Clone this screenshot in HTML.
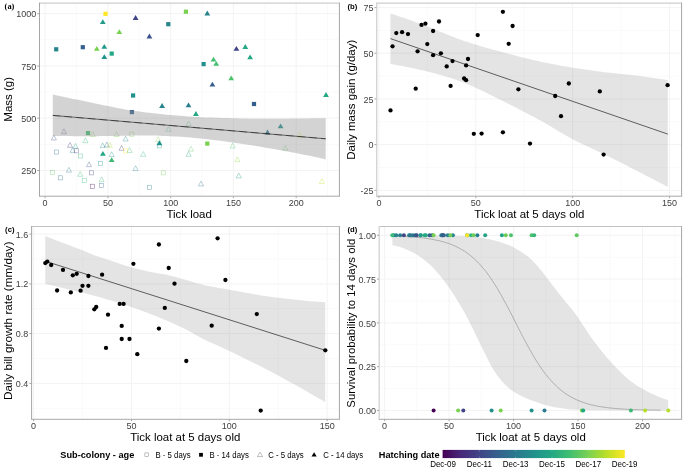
<!DOCTYPE html>
<html lang="en"><head><meta charset="utf-8"><title>Tick load figure</title>
<style>
html,body{margin:0;padding:0;background:#fff;}
svg{display:block;}
text{font-family:"Liberation Sans",Arial,Helvetica,sans-serif;}
.tk{font-size:9px;fill:#404040;}
.ax{font-size:11.45px;fill:#000;}
.ay{font-size:11.5px;fill:#000;}
.lb{font-size:7.7px;font-weight:bold;fill:#000;}
.lbs{font-family:"Liberation Serif","Times New Roman",serif;font-size:8.4px;font-weight:bold;fill:#000;}
.lt{font-size:9.2px;font-weight:bold;fill:#000;}
.lg{font-size:7.8px;fill:#000;}
.lc{font-size:8px;fill:#000;}
</style></head><body>
<svg width="685" height="472" viewBox="0 0 685 472">
<rect width="685" height="472" fill="#fff"/>
<g id="panel-a">
<line x1="76.5" y1="3.1" x2="76.5" y2="196.2" stroke="#fafafa" stroke-width="1"/>
<line x1="139.3" y1="3.1" x2="139.3" y2="196.2" stroke="#fafafa" stroke-width="1"/>
<line x1="202" y1="3.1" x2="202" y2="196.2" stroke="#fafafa" stroke-width="1"/>
<line x1="264.8" y1="3.1" x2="264.8" y2="196.2" stroke="#fafafa" stroke-width="1"/>
<line x1="327.6" y1="3.1" x2="327.6" y2="196.2" stroke="#fafafa" stroke-width="1"/>
<line x1="39.5" y1="144.4" x2="339.4" y2="144.4" stroke="#fafafa" stroke-width="1"/>
<line x1="39.5" y1="92.1" x2="339.4" y2="92.1" stroke="#fafafa" stroke-width="1"/>
<line x1="39.5" y1="39.8" x2="339.4" y2="39.8" stroke="#fafafa" stroke-width="1"/>
<line x1="45.1" y1="3.1" x2="45.1" y2="196.2" stroke="#f3f3f3" stroke-width="1"/>
<line x1="107.9" y1="3.1" x2="107.9" y2="196.2" stroke="#f3f3f3" stroke-width="1"/>
<line x1="170.7" y1="3.1" x2="170.7" y2="196.2" stroke="#f3f3f3" stroke-width="1"/>
<line x1="233.4" y1="3.1" x2="233.4" y2="196.2" stroke="#f3f3f3" stroke-width="1"/>
<line x1="296.2" y1="3.1" x2="296.2" y2="196.2" stroke="#f3f3f3" stroke-width="1"/>
<line x1="39.5" y1="170.5" x2="339.4" y2="170.5" stroke="#f3f3f3" stroke-width="1"/>
<line x1="39.5" y1="118.2" x2="339.4" y2="118.2" stroke="#f3f3f3" stroke-width="1"/>
<line x1="39.5" y1="66" x2="339.4" y2="66" stroke="#f3f3f3" stroke-width="1"/>
<line x1="39.5" y1="13.7" x2="339.4" y2="13.7" stroke="#f3f3f3" stroke-width="1"/>
<path d="M63.9 128.9L66.5 133.7L61.4 133.7Z" fill="none" stroke="#443680" stroke-width="0.55" stroke-opacity="0.62"/>
<path d="M92.8 131.6L95.3 136.4L90.2 136.4Z" fill="none" stroke="#7ad151" stroke-width="0.55" stroke-opacity="0.62"/>
<path d="M116.5 131.7L119 136.5L114 136.5Z" fill="none" stroke="#7ad151" stroke-width="0.55" stroke-opacity="0.62"/>
<rect x="129.8" y="132.1" width="4.1" height="4.1" fill="none" stroke="#7ad151" stroke-width="0.55" stroke-opacity="0.62"/>
<path d="M53.9 135.2L56.4 140L51.4 140Z" fill="none" stroke="#3b528a" stroke-width="0.55" stroke-opacity="0.62"/>
<path d="M85.4 137.9L88 142.7L82.9 142.7Z" fill="none" stroke="#32b47a" stroke-width="0.55" stroke-opacity="0.62"/>
<path d="M70 142.5L72.5 147.3L67.5 147.3Z" fill="none" stroke="#472e7b" stroke-width="0.55" stroke-opacity="0.62"/>
<path d="M75.5 143.5L78 148.3L73 148.3Z" fill="none" stroke="#22a884" stroke-width="0.55" stroke-opacity="0.62"/>
<path d="M72.5 147.6L75 152.4L70 152.4Z" fill="none" stroke="#2a788e" stroke-width="0.55" stroke-opacity="0.62"/>
<rect x="74.5" y="148.8" width="4.1" height="4.1" fill="none" stroke="#414487" stroke-width="0.55" stroke-opacity="0.62"/>
<rect x="54.4" y="150" width="4.1" height="4.1" fill="none" stroke="#287d8e" stroke-width="0.55" stroke-opacity="0.62"/>
<rect x="78.4" y="154" width="4.1" height="4.1" fill="none" stroke="#32b47a" stroke-width="0.55" stroke-opacity="0.62"/>
<path d="M102.7 142.9L105.2 147.7L100.2 147.7Z" fill="none" stroke="#21918c" stroke-width="0.55" stroke-opacity="0.62"/>
<path d="M106.8 142L109.3 146.8L104.2 146.8Z" fill="none" stroke="#306c8e" stroke-width="0.55" stroke-opacity="0.62"/>
<path d="M109.8 142.5L112.3 147.3L107.2 147.3Z" fill="none" stroke="#aedc2f" stroke-width="0.55" stroke-opacity="0.62"/>
<path d="M111.7 151.7L114.2 156.5L109.2 156.5Z" fill="none" stroke="#21918c" stroke-width="0.55" stroke-opacity="0.62"/>
<rect x="98.4" y="161.3" width="4.1" height="4.1" fill="none" stroke="#21918c" stroke-width="0.55" stroke-opacity="0.62"/>
<path d="M89 161.9L91.5 166.7L86.5 166.7Z" fill="none" stroke="#3b528a" stroke-width="0.55" stroke-opacity="0.62"/>
<path d="M68.9 167.3L71.5 172.1L66.4 172.1Z" fill="none" stroke="#2a788e" stroke-width="0.55" stroke-opacity="0.62"/>
<rect x="50.5" y="170.3" width="4.1" height="4.1" fill="none" stroke="#5ec861" stroke-width="0.55" stroke-opacity="0.62"/>
<rect x="89.5" y="170.8" width="4.1" height="4.1" fill="none" stroke="#414487" stroke-width="0.55" stroke-opacity="0.62"/>
<path d="M80.2 171.5L82.8 176.3L77.7 176.3Z" fill="none" stroke="#3cba75" stroke-width="0.55" stroke-opacity="0.62"/>
<rect x="58.4" y="175.8" width="4.1" height="4.1" fill="none" stroke="#2c738e" stroke-width="0.55" stroke-opacity="0.62"/>
<rect x="82.2" y="178.2" width="4.1" height="4.1" fill="none" stroke="#3cba75" stroke-width="0.55" stroke-opacity="0.62"/>
<path d="M101.6 176.9L104.1 181.7L99 181.7Z" fill="none" stroke="#3cba75" stroke-width="0.55" stroke-opacity="0.62"/>
<rect x="90.5" y="184.2" width="4.1" height="4.1" fill="none" stroke="#45095b" stroke-width="0.55" stroke-opacity="0.62"/>
<rect x="99.5" y="183.3" width="4.1" height="4.1" fill="none" stroke="#35608d" stroke-width="0.55" stroke-opacity="0.62"/>
<path d="M135.6 165.8L138.2 170.6L133 170.6Z" fill="none" stroke="#287d8e" stroke-width="0.55" stroke-opacity="0.62"/>
<path d="M125.6 136.2L128.2 141L123 141Z" fill="none" stroke="#21918c" stroke-width="0.55" stroke-opacity="0.62"/>
<path d="M168.4 126.5L171 131.3L165.8 131.3Z" fill="none" stroke="#43bf71" stroke-width="0.55" stroke-opacity="0.62"/>
<path d="M158.2 136.9L160.8 141.7L155.6 141.7Z" fill="none" stroke="#87d449" stroke-width="0.55" stroke-opacity="0.62"/>
<rect x="157.6" y="143.8" width="4.1" height="4.1" fill="none" stroke="#229c88" stroke-width="0.55" stroke-opacity="0.62"/>
<path d="M121.6 145.5L124.1 150.3L119 150.3Z" fill="none" stroke="#443680" stroke-width="0.55" stroke-opacity="0.62"/>
<rect x="123.4" y="148.9" width="4.1" height="4.1" fill="none" stroke="#fde725" stroke-width="0.55" stroke-opacity="0.62"/>
<path d="M129.6 147.6L132.2 152.4L127 152.4Z" fill="none" stroke="#3cba75" stroke-width="0.55" stroke-opacity="0.62"/>
<path d="M143.2 151.5L145.8 156.3L140.6 156.3Z" fill="none" stroke="#32b47a" stroke-width="0.55" stroke-opacity="0.62"/>
<path d="M191 146.3L193.6 151.1L188.4 151.1Z" fill="none" stroke="#5ec861" stroke-width="0.55" stroke-opacity="0.62"/>
<path d="M188.6 151.5L191.2 156.3L186 156.3Z" fill="none" stroke="#29ad80" stroke-width="0.55" stroke-opacity="0.62"/>
<rect x="161.2" y="170.8" width="4.1" height="4.1" fill="none" stroke="#6fcd57" stroke-width="0.55" stroke-opacity="0.62"/>
<rect x="147.4" y="185.2" width="4.1" height="4.1" fill="none" stroke="#26848d" stroke-width="0.55" stroke-opacity="0.62"/>
<path d="M201 181.1L203.6 185.9L198.4 185.9Z" fill="none" stroke="#2a788e" stroke-width="0.55" stroke-opacity="0.62"/>
<path d="M188.5 121.1L191.1 125.9L185.9 125.9Z" fill="none" stroke="#4ec36b" stroke-width="0.55" stroke-opacity="0.62"/>
<path d="M232.6 143.2L235.2 148L230 148Z" fill="none" stroke="#4ec36b" stroke-width="0.55" stroke-opacity="0.62"/>
<path d="M285.4 145.3L287.9 150.1L282.8 150.1Z" fill="none" stroke="#5ec861" stroke-width="0.55" stroke-opacity="0.62"/>
<path d="M237.4 156.9L240 161.7L234.8 161.7Z" fill="none" stroke="#8dd544" stroke-width="0.55" stroke-opacity="0.62"/>
<path d="M238.8 173.1L241.4 177.9L236.2 177.9Z" fill="none" stroke="#229c88" stroke-width="0.55" stroke-opacity="0.62"/>
<path d="M321.9 178.7L324.4 183.5L319.3 183.5Z" fill="none" stroke="#c8e127" stroke-width="0.55" stroke-opacity="0.62"/>
<path d="M299.7 132.3L302.2 137.1L297.1 137.1Z" fill="none" stroke="#dce326" stroke-width="0.55" stroke-opacity="0.62"/>
<rect x="103.4" y="11.7" width="4.2" height="4.2" fill="#fde725"/>
<path d="M102.8 19.2L105.7 24.1L99.9 24.1Z" fill="#229c88"/>
<path d="M135.6 15L138.5 19.9L132.7 19.9Z" fill="#414487"/>
<path d="M119.3 29.2L122.2 34L116.4 34Z" fill="#7ad151"/>
<rect x="54.1" y="47.2" width="4.2" height="4.2" fill="#26848d"/>
<rect x="80.7" y="45.1" width="4.2" height="4.2" fill="#35608d"/>
<path d="M96.8 45.9L99.7 50.8L93.9 50.8Z" fill="#7ad151"/>
<path d="M104.3 43.9L107.2 48.8L101.4 48.8Z" fill="#229c88"/>
<rect x="109.6" y="51.5" width="4.2" height="4.2" fill="#22a884"/>
<path d="M104.3 54.3L107.2 59.1L101.4 59.1Z" fill="#21918c"/>
<path d="M149.4 33.6L152.3 38.4L146.5 38.4Z" fill="#3b528a"/>
<rect x="166.2" y="22.1" width="4.2" height="4.2" fill="#26848d"/>
<rect x="183.8" y="9.6" width="4.2" height="4.2" fill="#7ad151"/>
<path d="M207.3 10.6L210.2 15.4L204.4 15.4Z" fill="#26848d"/>
<path d="M213.5 56.7L216.4 61.5L210.6 61.5Z" fill="#43bf71"/>
<path d="M216.2 61L219.1 65.8L213.3 65.8Z" fill="#43bf71"/>
<rect x="201.5" y="62" width="4.2" height="4.2" fill="#21918c"/>
<path d="M245.3 44.1L248.2 48.9L242.4 48.9Z" fill="#22a884"/>
<path d="M250.1 54.4L253 59.2L247.2 59.2Z" fill="#22a884"/>
<path d="M236.4 46L239.3 50.8L233.5 50.8Z" fill="#414487"/>
<path d="M231.2 75.4L234.1 80.2L228.3 80.2Z" fill="#4ec36b"/>
<path d="M212.4 81.8L215.3 86.6L209.5 86.6Z" fill="#35608d"/>
<rect x="131" y="93.4" width="4.2" height="4.2" fill="#21918c"/>
<rect x="129.8" y="110" width="4.2" height="4.2" fill="#35608d"/>
<rect x="85.9" y="131" width="4.2" height="4.2" fill="#43bf71"/>
<path d="M162.1 103.1L165 108L159.2 108Z" fill="#26848d"/>
<path d="M188.5 102.5L191.4 107.3L185.6 107.3Z" fill="#287d8e"/>
<path d="M195.9 111.1L198.8 116L193 116Z" fill="#22a884"/>
<rect x="251.9" y="101.9" width="4.2" height="4.2" fill="#35608d"/>
<path d="M326 92.1L328.9 97L323.1 97Z" fill="#22a884"/>
<path d="M280.6 123.4L283.5 128.2L277.7 128.2Z" fill="#21918c"/>
<path d="M267.5 129.6L270.4 134.5L264.6 134.5Z" fill="#2a788e"/>
<rect x="205.2" y="141.5" width="4.2" height="4.2" fill="#7ad151"/>
<path d="M102.9 150.9L105.8 155.8L100 155.8Z" fill="#22a884"/>
<path d="M111.7 157.2L114.6 162.1L108.8 162.1Z" fill="#3cba75"/>
<path d="M159.4 140.3L162.3 145.2L156.5 145.2Z" fill="#21918c"/>
<path d="M52.8 94.5 L56.3 95.2 L59.7 96 L63.2 96.7 L66.6 97.4 L70.1 98.2 L73.5 98.9 L77 99.6 L80.4 100.3 L83.9 101 L87.3 101.7 L90.8 102.5 L94.3 103.2 L97.7 103.9 L101.2 104.7 L104.6 105.4 L108.1 106.1 L111.5 106.8 L115 107.5 L118.4 108.2 L121.9 108.8 L125.3 109.4 L128.8 110 L132.3 110.5 L135.7 111 L139.2 111.5 L142.6 112 L146.1 112.4 L149.5 112.8 L153 113.2 L156.4 113.6 L159.9 114 L163.3 114.3 L166.8 114.7 L170.3 115 L173.7 115.3 L177.2 115.6 L180.6 115.8 L184.1 116.1 L187.5 116.4 L191 116.6 L194.4 116.9 L197.9 117.1 L201.3 117.2 L204.8 117.4 L208.2 117.5 L211.7 117.6 L215.2 117.7 L218.6 117.8 L222.1 117.9 L225.5 118 L229 118.1 L232.4 118.2 L235.9 118.3 L239.3 118.4 L242.8 118.5 L246.2 118.6 L249.7 118.7 L253.2 118.7 L256.6 118.7 L260.1 118.7 L263.5 118.7 L267 118.7 L270.4 118.7 L273.9 118.7 L277.3 118.7 L280.8 118.7 L284.2 118.7 L287.7 118.7 L291.2 118.6 L294.6 118.6 L298.1 118.5 L301.5 118.5 L305 118.4 L308.4 118.4 L311.9 118.3 L315.3 118.3 L318.8 118.2 L322.2 118.2 L325.7 118.1 L325.7 159.4 L322.2 158.6 L318.8 157.8 L315.3 157 L311.9 156.3 L308.4 155.6 L305 154.9 L301.5 154.2 L298.1 153.5 L294.6 152.8 L291.2 152.2 L287.7 151.5 L284.2 150.9 L280.8 150.3 L277.3 149.7 L273.9 149.1 L270.4 148.5 L267 147.9 L263.5 147.3 L260.1 146.7 L256.6 146.1 L253.2 145.6 L249.7 145.1 L246.2 144.5 L242.8 144 L239.3 143.5 L235.9 143 L232.4 142.5 L229 142 L225.5 141.6 L222.1 141.1 L218.6 140.6 L215.2 140.2 L211.7 139.7 L208.2 139.3 L204.8 138.9 L201.3 138.6 L197.9 138.2 L194.4 137.9 L191 137.6 L187.5 137.3 L184.1 137 L180.6 136.8 L177.2 136.5 L173.7 136.4 L170.3 136.2 L166.8 136 L163.3 135.9 L159.9 135.7 L156.4 135.6 L153 135.5 L149.5 135.5 L146.1 135.5 L142.6 135.5 L139.2 135.6 L135.7 135.6 L132.3 135.6 L128.8 135.7 L125.3 135.8 L121.9 135.8 L118.4 135.9 L115 135.9 L111.5 136 L108.1 136 L104.6 136.1 L101.2 136.1 L97.7 136.2 L94.3 136.2 L90.8 136.2 L87.3 136.2 L83.9 136.2 L80.4 136.2 L77 136.2 L73.5 136.2 L70.1 136.1 L66.6 136.1 L63.2 136.1 L59.7 136 L56.3 136 L52.8 135.9Z" fill="rgba(150,150,150,0.42)"/>
<line x1="52.8" y1="115.4" x2="325.7" y2="138.8" stroke="#333" stroke-width="0.7"/>
<line x1="52.8" y1="115.4" x2="325.7" y2="138.8" stroke="#000" stroke-width="0.9" stroke-opacity="0.45" stroke-dasharray="7.6 4.1"/>
<line x1="39.5" y1="3.1" x2="339.4" y2="3.1" stroke="#c2c2c2" stroke-width="1"/>
<line x1="39" y1="196.2" x2="339.9" y2="196.2" stroke="#a8a8a8" stroke-width="1"/>
<line x1="39.5" y1="2.6" x2="39.5" y2="196.2" stroke="#a6a6a6" stroke-width="1"/>
<line x1="339.4" y1="2.6" x2="339.4" y2="196.2" stroke="#a6a6a6" stroke-width="1"/>
<line x1="45.1" y1="196.6" x2="45.1" y2="198.1" stroke="#8c8c8c" stroke-width="0.8"/>
<text transform="translate(45.1,206.15) scale(1.0,1.08)" text-anchor="middle" class="tk">0</text>
<line x1="107.9" y1="196.6" x2="107.9" y2="198.1" stroke="#8c8c8c" stroke-width="0.8"/>
<text transform="translate(107.88,206.15) scale(1.0,1.08)" text-anchor="middle" class="tk">50</text>
<line x1="170.7" y1="196.6" x2="170.7" y2="198.1" stroke="#8c8c8c" stroke-width="0.8"/>
<text transform="translate(170.65,206.15) scale(1.0,1.08)" text-anchor="middle" class="tk">100</text>
<line x1="233.4" y1="196.6" x2="233.4" y2="198.1" stroke="#8c8c8c" stroke-width="0.8"/>
<text transform="translate(233.43,206.15) scale(1.0,1.08)" text-anchor="middle" class="tk">150</text>
<line x1="296.2" y1="196.6" x2="296.2" y2="198.1" stroke="#8c8c8c" stroke-width="0.8"/>
<text transform="translate(296.2,206.15) scale(1.0,1.08)" text-anchor="middle" class="tk">200</text>
<line x1="37.3" y1="170.5" x2="39.1" y2="170.5" stroke="#8c8c8c" stroke-width="0.8"/>
<text transform="translate(36.2,174.1) scale(1.0,1.08)" text-anchor="end" class="tk">250</text>
<line x1="37.3" y1="118.2" x2="39.1" y2="118.2" stroke="#8c8c8c" stroke-width="0.8"/>
<text transform="translate(36.2,121.83) scale(1.0,1.08)" text-anchor="end" class="tk">500</text>
<line x1="37.3" y1="66" x2="39.1" y2="66" stroke="#8c8c8c" stroke-width="0.8"/>
<text transform="translate(36.2,69.57) scale(1.0,1.08)" text-anchor="end" class="tk">750</text>
<line x1="37.3" y1="13.7" x2="39.1" y2="13.7" stroke="#8c8c8c" stroke-width="0.8"/>
<text transform="translate(36.2,17.3) scale(1.0,1.08)" text-anchor="end" class="tk">1000</text>
<text transform="translate(189.1,217.5) scale(1.0,1.02)" text-anchor="middle" class="ax">Tick load</text>
<text transform="translate(11.7,99.3) rotate(-90) scale(1.0,1.02)" text-anchor="middle" class="ay">Mass (g)</text>
<text x="4.6" y="8.9" class="lbs">(a)</text>
</g>
<g id="panel-b">
<line x1="427.3" y1="3.1" x2="427.3" y2="196.2" stroke="#fafafa" stroke-width="1"/>
<line x1="524.2" y1="3.1" x2="524.2" y2="196.2" stroke="#fafafa" stroke-width="1"/>
<line x1="621.1" y1="3.1" x2="621.1" y2="196.2" stroke="#fafafa" stroke-width="1"/>
<line x1="376.7" y1="167.4" x2="681.6" y2="167.4" stroke="#fafafa" stroke-width="1"/>
<line x1="376.7" y1="121.8" x2="681.6" y2="121.8" stroke="#fafafa" stroke-width="1"/>
<line x1="376.7" y1="76.1" x2="681.6" y2="76.1" stroke="#fafafa" stroke-width="1"/>
<line x1="376.7" y1="30.4" x2="681.6" y2="30.4" stroke="#fafafa" stroke-width="1"/>
<line x1="378.9" y1="3.1" x2="378.9" y2="196.2" stroke="#f3f3f3" stroke-width="1"/>
<line x1="475.8" y1="3.1" x2="475.8" y2="196.2" stroke="#f3f3f3" stroke-width="1"/>
<line x1="572.6" y1="3.1" x2="572.6" y2="196.2" stroke="#f3f3f3" stroke-width="1"/>
<line x1="669.5" y1="3.1" x2="669.5" y2="196.2" stroke="#f3f3f3" stroke-width="1"/>
<line x1="376.7" y1="190.3" x2="681.6" y2="190.3" stroke="#f3f3f3" stroke-width="1"/>
<line x1="376.7" y1="144.6" x2="681.6" y2="144.6" stroke="#f3f3f3" stroke-width="1"/>
<line x1="376.7" y1="98.9" x2="681.6" y2="98.9" stroke="#f3f3f3" stroke-width="1"/>
<line x1="376.7" y1="53.2" x2="681.6" y2="53.2" stroke="#f3f3f3" stroke-width="1"/>
<line x1="376.7" y1="7.6" x2="681.6" y2="7.6" stroke="#f3f3f3" stroke-width="1"/>
<path d="M390.4 13.4 L393.9 14.6 L397.4 15.7 L400.9 16.9 L404.4 18.1 L408 19.4 L411.5 20.6 L415 21.9 L418.5 23.2 L422 24.5 L425.5 25.8 L429 27.1 L432.5 28.5 L436 29.9 L439.6 31.4 L443.1 32.8 L446.6 34.3 L450.1 35.8 L453.6 37.1 L457.1 38.5 L460.6 39.7 L464.1 40.9 L467.7 42 L471.2 43.2 L474.7 44.3 L478.2 45.3 L481.7 46.4 L485.2 47.4 L488.7 48.4 L492.2 49.4 L495.7 50.3 L499.3 51.3 L502.8 52.2 L506.3 53.2 L509.8 54.1 L513.3 55.1 L516.8 56 L520.3 56.9 L523.8 57.8 L527.3 58.6 L530.9 59.5 L534.4 60.3 L537.9 61.1 L541.4 61.9 L544.9 62.6 L548.4 63.3 L551.9 64 L555.4 64.6 L558.9 65.3 L562.5 65.9 L566 66.5 L569.5 67.1 L573 67.7 L576.5 68.2 L580 68.8 L583.5 69.3 L587 69.8 L590.5 70.3 L594.1 70.8 L597.6 71.3 L601.1 71.7 L604.6 72.2 L608.1 72.6 L611.6 72.9 L615.1 73.3 L618.6 73.7 L622.2 74 L625.7 74.4 L629.2 74.8 L632.7 75.2 L636.2 75.6 L639.7 76 L643.2 76.5 L646.7 77 L650.2 77.5 L653.8 78 L657.3 78.5 L660.8 79.1 L664.3 79.6 L667.8 80.2 L667.8 186.9 L664.3 185 L660.8 183.2 L657.3 181.4 L653.8 179.5 L650.2 177.7 L646.7 175.9 L643.2 174.1 L639.7 172.3 L636.2 170.5 L632.7 168.7 L629.2 166.9 L625.7 165.1 L622.2 163.3 L618.6 161.6 L615.1 159.8 L611.6 158.1 L608.1 156.3 L604.6 154.6 L601.1 152.9 L597.6 151.2 L594.1 149.5 L590.5 147.8 L587 146.2 L583.5 144.5 L580 142.9 L576.5 141.2 L573 139.4 L569.5 137.6 L566 135.6 L562.5 133.6 L558.9 131.5 L555.4 129.3 L551.9 127.2 L548.4 125.1 L544.9 123.1 L541.4 121.1 L537.9 119.2 L534.4 117.3 L530.9 115.4 L527.3 113.5 L523.8 111.7 L520.3 109.9 L516.8 108.1 L513.3 106.3 L509.8 104.5 L506.3 102.8 L502.8 101 L499.3 99.3 L495.7 97.5 L492.2 95.8 L488.7 94 L485.2 92.3 L481.7 90.5 L478.2 88.9 L474.7 87.2 L471.2 85.7 L467.7 84.2 L464.1 82.8 L460.6 81.4 L457.1 80.2 L453.6 79 L450.1 77.8 L446.6 76.7 L443.1 75.7 L439.6 74.7 L436 73.7 L432.5 72.8 L429 71.9 L425.5 71 L422 70.2 L418.5 69.4 L415 68.6 L411.5 67.9 L408 67.2 L404.4 66.5 L400.9 65.8 L397.4 65.2 L393.9 64.6 L390.4 64.1Z" fill="rgba(120,120,120,0.2)"/>
<line x1="390.4" y1="38.6" x2="667.8" y2="134.1" stroke="#222" stroke-width="0.7"/>
<circle cx="392.5" cy="46.3" r="2.15" fill="#000"/>
<circle cx="396.3" cy="33.1" r="2.15" fill="#000"/>
<circle cx="402.1" cy="32.2" r="2.15" fill="#000"/>
<circle cx="408" cy="34.1" r="2.15" fill="#000"/>
<circle cx="421.5" cy="24.9" r="2.15" fill="#000"/>
<circle cx="425.4" cy="23.7" r="2.15" fill="#000"/>
<circle cx="439" cy="21.5" r="2.15" fill="#000"/>
<circle cx="433.1" cy="31" r="2.15" fill="#000"/>
<circle cx="427.3" cy="44.1" r="2.15" fill="#000"/>
<circle cx="417.6" cy="51.3" r="2.15" fill="#000"/>
<circle cx="433.1" cy="55.2" r="2.15" fill="#000"/>
<circle cx="440.9" cy="53.3" r="2.15" fill="#000"/>
<circle cx="452.5" cy="61.1" r="2.15" fill="#000"/>
<circle cx="468" cy="59" r="2.15" fill="#000"/>
<circle cx="446.7" cy="66.4" r="2.15" fill="#000"/>
<circle cx="466.1" cy="65.4" r="2.15" fill="#000"/>
<circle cx="390.5" cy="110.4" r="2.15" fill="#000"/>
<circle cx="415.7" cy="88.7" r="2.15" fill="#000"/>
<circle cx="450.6" cy="85.9" r="2.15" fill="#000"/>
<circle cx="464.1" cy="78.5" r="2.15" fill="#000"/>
<circle cx="466.1" cy="80.2" r="2.15" fill="#000"/>
<circle cx="502.9" cy="11.8" r="2.15" fill="#000"/>
<circle cx="512.6" cy="26" r="2.15" fill="#000"/>
<circle cx="477.7" cy="35.1" r="2.15" fill="#000"/>
<circle cx="508.7" cy="43.8" r="2.15" fill="#000"/>
<circle cx="518.4" cy="89.3" r="2.15" fill="#000"/>
<circle cx="568.8" cy="83.5" r="2.15" fill="#000"/>
<circle cx="555.2" cy="96" r="2.15" fill="#000"/>
<circle cx="599.8" cy="91.4" r="2.15" fill="#000"/>
<circle cx="561" cy="116.2" r="2.15" fill="#000"/>
<circle cx="603.6" cy="154.6" r="2.15" fill="#000"/>
<circle cx="667.6" cy="85.2" r="2.15" fill="#000"/>
<circle cx="473.8" cy="133.8" r="2.15" fill="#000"/>
<circle cx="481.6" cy="133.6" r="2.15" fill="#000"/>
<circle cx="502.9" cy="132.3" r="2.15" fill="#000"/>
<circle cx="530" cy="143.6" r="2.15" fill="#000"/>
<line x1="376.7" y1="3.1" x2="681.6" y2="3.1" stroke="#c2c2c2" stroke-width="1"/>
<line x1="376.2" y1="196.2" x2="682.1" y2="196.2" stroke="#a8a8a8" stroke-width="1"/>
<line x1="376.7" y1="2.6" x2="376.7" y2="196.2" stroke="#d2d2d2" stroke-width="1.3"/>
<line x1="681.6" y1="2.6" x2="681.6" y2="196.2" stroke="#a6a6a6" stroke-width="1"/>
<line x1="378.9" y1="196.6" x2="378.9" y2="198.1" stroke="#8c8c8c" stroke-width="0.8"/>
<text transform="translate(378.9,206.15) scale(1.0,1.08)" text-anchor="middle" class="tk">0</text>
<line x1="475.8" y1="196.6" x2="475.8" y2="198.1" stroke="#8c8c8c" stroke-width="0.8"/>
<text transform="translate(475.77,206.15) scale(1.0,1.08)" text-anchor="middle" class="tk">50</text>
<line x1="572.6" y1="196.6" x2="572.6" y2="198.1" stroke="#8c8c8c" stroke-width="0.8"/>
<text transform="translate(572.65,206.15) scale(1.0,1.08)" text-anchor="middle" class="tk">100</text>
<line x1="669.5" y1="196.6" x2="669.5" y2="198.1" stroke="#8c8c8c" stroke-width="0.8"/>
<text transform="translate(669.52,206.15) scale(1.0,1.08)" text-anchor="middle" class="tk">150</text>
<line x1="374.5" y1="190.3" x2="376.3" y2="190.3" stroke="#8c8c8c" stroke-width="0.8"/>
<text transform="translate(373.4,193.87) scale(1.0,1.08)" text-anchor="end" class="tk">-25</text>
<line x1="374.5" y1="144.6" x2="376.3" y2="144.6" stroke="#8c8c8c" stroke-width="0.8"/>
<text transform="translate(373.4,148.2) scale(1.0,1.08)" text-anchor="end" class="tk">0</text>
<line x1="374.5" y1="98.9" x2="376.3" y2="98.9" stroke="#8c8c8c" stroke-width="0.8"/>
<text transform="translate(373.4,102.52) scale(1.0,1.08)" text-anchor="end" class="tk">25</text>
<line x1="374.5" y1="53.2" x2="376.3" y2="53.2" stroke="#8c8c8c" stroke-width="0.8"/>
<text transform="translate(373.4,56.85) scale(1.0,1.08)" text-anchor="end" class="tk">50</text>
<line x1="374.5" y1="7.6" x2="376.3" y2="7.6" stroke="#8c8c8c" stroke-width="0.8"/>
<text transform="translate(373.4,11.17) scale(1.0,1.08)" text-anchor="end" class="tk">75</text>
<text transform="translate(529.4,217.9) scale(1.0,1.02)" text-anchor="middle" class="ax">Tick loat at 5 days old</text>
<text transform="translate(354.5,99.7) rotate(-90) scale(1.0,1.02)" text-anchor="middle" class="ay">Daily mass gain (g/day)</text>
<text x="347.5" y="9.2" class="lb">(b)</text>
</g>
<g id="panel-c">
<line x1="82.5" y1="226.5" x2="82.5" y2="419.3" stroke="#fafafa" stroke-width="1"/>
<line x1="180.4" y1="226.5" x2="180.4" y2="419.3" stroke="#fafafa" stroke-width="1"/>
<line x1="278.3" y1="226.5" x2="278.3" y2="419.3" stroke="#fafafa" stroke-width="1"/>
<line x1="31.6" y1="408.3" x2="339.4" y2="408.3" stroke="#fafafa" stroke-width="1"/>
<line x1="31.6" y1="358.5" x2="339.4" y2="358.5" stroke="#fafafa" stroke-width="1"/>
<line x1="31.6" y1="308.8" x2="339.4" y2="308.8" stroke="#fafafa" stroke-width="1"/>
<line x1="31.6" y1="259" x2="339.4" y2="259" stroke="#fafafa" stroke-width="1"/>
<line x1="33.6" y1="226.5" x2="33.6" y2="419.3" stroke="#f3f3f3" stroke-width="1"/>
<line x1="131.5" y1="226.5" x2="131.5" y2="419.3" stroke="#f3f3f3" stroke-width="1"/>
<line x1="229.3" y1="226.5" x2="229.3" y2="419.3" stroke="#f3f3f3" stroke-width="1"/>
<line x1="327.2" y1="226.5" x2="327.2" y2="419.3" stroke="#f3f3f3" stroke-width="1"/>
<line x1="31.6" y1="383.4" x2="339.4" y2="383.4" stroke="#f3f3f3" stroke-width="1"/>
<line x1="31.6" y1="333.6" x2="339.4" y2="333.6" stroke="#f3f3f3" stroke-width="1"/>
<line x1="31.6" y1="283.9" x2="339.4" y2="283.9" stroke="#f3f3f3" stroke-width="1"/>
<line x1="31.6" y1="234.1" x2="339.4" y2="234.1" stroke="#f3f3f3" stroke-width="1"/>
<path d="M45.3 235.9 L48.8 237.4 L52.4 238.8 L55.9 240.2 L59.5 241.6 L63 243 L66.6 244.3 L70.1 245.6 L73.6 246.9 L77.2 248.2 L80.7 249.5 L84.3 251 L87.8 252.5 L91.4 254 L94.9 255.4 L98.4 256.6 L102 257.8 L105.5 258.9 L109.1 260.1 L112.6 261.3 L116.2 262.5 L119.7 263.8 L123.2 264.9 L126.8 266 L130.3 267 L133.9 268 L137.4 269 L141 269.8 L144.5 270.6 L148 271.4 L151.6 272.1 L155.1 272.8 L158.7 273.4 L162.2 274 L165.8 274.6 L169.3 275.4 L172.8 276.3 L176.4 277.2 L179.9 278.2 L183.5 279.2 L187 280.2 L190.6 281.3 L194.1 282.4 L197.7 283.4 L201.2 284.3 L204.7 285.2 L208.3 285.9 L211.8 286.6 L215.4 287.3 L218.9 287.9 L222.5 288.5 L226 289.1 L229.5 289.8 L233.1 290.4 L236.6 291 L240.2 291.7 L243.7 292.3 L247.3 293 L250.8 293.6 L254.3 294.2 L257.9 294.8 L261.4 295.4 L265 295.9 L268.5 296.5 L272.1 296.9 L275.6 297.4 L279.1 297.8 L282.7 298.2 L286.2 298.7 L289.8 299.1 L293.3 299.4 L296.9 299.8 L300.4 300.2 L303.9 300.5 L307.5 300.9 L311 301.2 L314.6 301.5 L318.1 301.7 L321.7 302 L325.2 302.2 L325.2 402.2 L321.7 400.1 L318.1 398 L314.6 395.9 L311 393.9 L307.5 391.8 L303.9 389.8 L300.4 387.8 L296.9 385.8 L293.3 383.8 L289.8 381.9 L286.2 379.9 L282.7 378 L279.1 376.1 L275.6 374.2 L272.1 372.3 L268.5 370.5 L265 368.6 L261.4 366.8 L257.9 365 L254.3 363.2 L250.8 361.5 L247.3 359.7 L243.7 358 L240.2 356.3 L236.6 354.5 L233.1 352.8 L229.5 351.1 L226 349.5 L222.5 347.8 L218.9 346.2 L215.4 344.6 L211.8 343.1 L208.3 341.4 L204.7 339.7 L201.2 338 L197.7 336.1 L194.1 334.1 L190.6 332 L187 330.1 L183.5 328.3 L179.9 326.5 L176.4 324.9 L172.8 323.3 L169.3 321.7 L165.8 320.2 L162.2 318.7 L158.7 317.2 L155.1 315.8 L151.6 314.4 L148 313 L144.5 311.7 L141 310.4 L137.4 309.1 L133.9 307.9 L130.3 306.7 L126.8 305.5 L123.2 304.3 L119.7 303.2 L116.2 302.1 L112.6 301 L109.1 299.9 L105.5 298.9 L102 297.8 L98.4 296.8 L94.9 295.9 L91.4 295 L87.8 294 L84.3 293.1 L80.7 292.3 L77.2 291.4 L73.6 290.6 L70.1 289.7 L66.6 288.9 L63 288 L59.5 287.2 L55.9 286.3 L52.4 285.5 L48.8 284.7 L45.3 283.9Z" fill="rgba(120,120,120,0.2)"/>
<line x1="45.3" y1="261.2" x2="325.2" y2="350.3" stroke="#222" stroke-width="0.7"/>
<circle cx="45.3" cy="263.1" r="2.15" fill="#000"/>
<circle cx="47.3" cy="261.6" r="2.15" fill="#000"/>
<circle cx="51.2" cy="265" r="2.15" fill="#000"/>
<circle cx="63" cy="269.9" r="2.15" fill="#000"/>
<circle cx="72.8" cy="275.3" r="2.15" fill="#000"/>
<circle cx="76.7" cy="273.8" r="2.15" fill="#000"/>
<circle cx="88.4" cy="276" r="2.15" fill="#000"/>
<circle cx="102.1" cy="274.7" r="2.15" fill="#000"/>
<circle cx="82.5" cy="285.8" r="2.15" fill="#000"/>
<circle cx="88.4" cy="285.8" r="2.15" fill="#000"/>
<circle cx="80.6" cy="290.7" r="2.15" fill="#000"/>
<circle cx="57.1" cy="290.5" r="2.15" fill="#000"/>
<circle cx="70.8" cy="292.4" r="2.15" fill="#000"/>
<circle cx="174.5" cy="283.7" r="2.15" fill="#000"/>
<circle cx="119.7" cy="303.9" r="2.15" fill="#000"/>
<circle cx="123.6" cy="303.9" r="2.15" fill="#000"/>
<circle cx="96.2" cy="307" r="2.15" fill="#000"/>
<circle cx="94.3" cy="309.3" r="2.15" fill="#000"/>
<circle cx="108" cy="314.7" r="2.15" fill="#000"/>
<circle cx="164.8" cy="307.9" r="2.15" fill="#000"/>
<circle cx="121.7" cy="325.9" r="2.15" fill="#000"/>
<circle cx="158.9" cy="328.6" r="2.15" fill="#000"/>
<circle cx="121.7" cy="339" r="2.15" fill="#000"/>
<circle cx="129.5" cy="339" r="2.15" fill="#000"/>
<circle cx="106" cy="347.9" r="2.15" fill="#000"/>
<circle cx="137.3" cy="354.2" r="2.15" fill="#000"/>
<circle cx="186.3" cy="361" r="2.15" fill="#000"/>
<circle cx="158.9" cy="244.5" r="2.15" fill="#000"/>
<circle cx="217.6" cy="238.3" r="2.15" fill="#000"/>
<circle cx="133.4" cy="263.8" r="2.15" fill="#000"/>
<circle cx="168.7" cy="268" r="2.15" fill="#000"/>
<circle cx="225.4" cy="280" r="2.15" fill="#000"/>
<circle cx="256.8" cy="314.1" r="2.15" fill="#000"/>
<circle cx="211.7" cy="325.7" r="2.15" fill="#000"/>
<circle cx="325.3" cy="350.3" r="2.15" fill="#000"/>
<circle cx="260.7" cy="410.6" r="2.15" fill="#000"/>
<line x1="31.6" y1="226.5" x2="339.4" y2="226.5" stroke="#c2c2c2" stroke-width="1"/>
<line x1="31.1" y1="419.3" x2="339.9" y2="419.3" stroke="#a8a8a8" stroke-width="1"/>
<line x1="31.6" y1="226" x2="31.6" y2="419.3" stroke="#a6a6a6" stroke-width="1"/>
<line x1="339.4" y1="226" x2="339.4" y2="419.3" stroke="#a6a6a6" stroke-width="1"/>
<line x1="33.6" y1="419.7" x2="33.6" y2="421.2" stroke="#8c8c8c" stroke-width="0.8"/>
<text transform="translate(33.6,429.3) scale(1.0,1.08)" text-anchor="middle" class="tk">0</text>
<line x1="131.5" y1="419.7" x2="131.5" y2="421.2" stroke="#8c8c8c" stroke-width="0.8"/>
<text transform="translate(131.47,429.3) scale(1.0,1.08)" text-anchor="middle" class="tk">50</text>
<line x1="229.3" y1="419.7" x2="229.3" y2="421.2" stroke="#8c8c8c" stroke-width="0.8"/>
<text transform="translate(229.35,429.3) scale(1.0,1.08)" text-anchor="middle" class="tk">100</text>
<line x1="327.2" y1="419.7" x2="327.2" y2="421.2" stroke="#8c8c8c" stroke-width="0.8"/>
<text transform="translate(327.23,429.3) scale(1.0,1.08)" text-anchor="middle" class="tk">150</text>
<line x1="29.4" y1="383.4" x2="31.2" y2="383.4" stroke="#8c8c8c" stroke-width="0.8"/>
<text transform="translate(28.3,386.99) scale(1.0,1.08)" text-anchor="end" class="tk">0.4</text>
<line x1="29.4" y1="333.6" x2="31.2" y2="333.6" stroke="#8c8c8c" stroke-width="0.8"/>
<text transform="translate(28.3,337.23) scale(1.0,1.08)" text-anchor="end" class="tk">0.8</text>
<line x1="29.4" y1="283.9" x2="31.2" y2="283.9" stroke="#8c8c8c" stroke-width="0.8"/>
<text transform="translate(28.3,287.47) scale(1.0,1.08)" text-anchor="end" class="tk">1.2</text>
<line x1="29.4" y1="234.1" x2="31.2" y2="234.1" stroke="#8c8c8c" stroke-width="0.8"/>
<text transform="translate(28.3,237.71) scale(1.0,1.08)" text-anchor="end" class="tk">1.6</text>
<text transform="translate(185.3,441.2) scale(1.0,1.02)" text-anchor="middle" class="ax">Tick loat at 5 days old</text>
<text transform="translate(11.7,320.8) rotate(-90) scale(1.02,1.02)" text-anchor="middle" class="ay">Daily bill growth rate (mm/day)</text>
<text x="5.1" y="232.4" class="lb">(c)</text>
</g>
<g id="panel-d">
<line x1="416.8" y1="226.5" x2="416.8" y2="419.3" stroke="#fafafa" stroke-width="1"/>
<line x1="481.3" y1="226.5" x2="481.3" y2="419.3" stroke="#fafafa" stroke-width="1"/>
<line x1="545.8" y1="226.5" x2="545.8" y2="419.3" stroke="#fafafa" stroke-width="1"/>
<line x1="610.3" y1="226.5" x2="610.3" y2="419.3" stroke="#fafafa" stroke-width="1"/>
<line x1="674.7" y1="226.5" x2="674.7" y2="419.3" stroke="#fafafa" stroke-width="1"/>
<line x1="379.2" y1="388.6" x2="681.6" y2="388.6" stroke="#fafafa" stroke-width="1"/>
<line x1="379.2" y1="344.8" x2="681.6" y2="344.8" stroke="#fafafa" stroke-width="1"/>
<line x1="379.2" y1="301" x2="681.6" y2="301" stroke="#fafafa" stroke-width="1"/>
<line x1="379.2" y1="257.2" x2="681.6" y2="257.2" stroke="#fafafa" stroke-width="1"/>
<line x1="384.6" y1="226.5" x2="384.6" y2="419.3" stroke="#f3f3f3" stroke-width="1"/>
<line x1="449.1" y1="226.5" x2="449.1" y2="419.3" stroke="#f3f3f3" stroke-width="1"/>
<line x1="513.6" y1="226.5" x2="513.6" y2="419.3" stroke="#f3f3f3" stroke-width="1"/>
<line x1="578" y1="226.5" x2="578" y2="419.3" stroke="#f3f3f3" stroke-width="1"/>
<line x1="642.5" y1="226.5" x2="642.5" y2="419.3" stroke="#f3f3f3" stroke-width="1"/>
<line x1="379.2" y1="410.4" x2="681.6" y2="410.4" stroke="#f3f3f3" stroke-width="1"/>
<line x1="379.2" y1="366.7" x2="681.6" y2="366.7" stroke="#f3f3f3" stroke-width="1"/>
<line x1="379.2" y1="322.9" x2="681.6" y2="322.9" stroke="#f3f3f3" stroke-width="1"/>
<line x1="379.2" y1="279.1" x2="681.6" y2="279.1" stroke="#f3f3f3" stroke-width="1"/>
<line x1="379.2" y1="235.3" x2="681.6" y2="235.3" stroke="#f3f3f3" stroke-width="1"/>
<path d="M392.4 235.3 L395.9 235.3 L399.4 235.3 L402.9 235.3 L406.4 235.3 L409.9 235.3 L413.3 235.3 L416.8 235.3 L420.3 235.3 L423.8 235.3 L427.3 235.4 L430.8 235.4 L434.3 235.4 L437.8 235.4 L441.3 235.4 L444.8 235.5 L448.3 235.5 L451.7 235.6 L455.2 235.8 L458.7 235.9 L462.2 236.1 L465.7 236.2 L469.2 236.5 L472.7 236.8 L476.2 237.1 L479.7 237.6 L483.2 238.1 L486.7 238.7 L490.2 239.5 L493.6 240.3 L497.1 241.2 L500.6 242.2 L504.1 243.4 L507.6 244.7 L511.1 246.1 L514.6 247.9 L518.1 249.9 L521.6 252 L525.1 254.4 L528.6 257 L532 260 L535.5 263.7 L539 267.8 L542.5 272.1 L546 276.7 L549.5 281.2 L553 285.7 L556.5 290.3 L560 294.9 L563.5 299.3 L567 303.4 L570.4 307.4 L573.9 311.8 L577.4 316.7 L580.9 321.9 L584.4 327.3 L587.9 332.6 L591.4 337.7 L594.9 342.4 L598.4 347 L601.9 351.4 L605.4 355.7 L608.9 359.8 L612.3 363.6 L615.8 367.3 L619.3 370.8 L622.8 374.2 L626.3 377.4 L629.8 380.4 L633.3 383.1 L636.8 385.4 L640.3 387.6 L643.8 389.6 L647.3 391.4 L650.7 393.2 L654.2 394.8 L657.7 396.3 L661.2 397.7 L664.7 399 L668.2 400.2 L668.2 410.4 L664.7 410.4 L661.2 410.4 L657.7 410.4 L654.2 410.4 L650.7 410.4 L647.3 410.4 L643.8 410.4 L640.3 410.4 L636.8 410.4 L633.3 410.4 L629.8 410.4 L626.3 410.4 L622.8 410.4 L619.3 410.4 L615.8 410.4 L612.3 410.4 L608.9 410.3 L605.4 410.3 L601.9 410.3 L598.4 410.3 L594.9 410.3 L591.4 410.2 L587.9 410.1 L584.4 410 L580.9 409.9 L577.4 409.8 L573.9 409.6 L570.4 409.4 L567 409.1 L563.5 408.6 L560 408.1 L556.5 407.5 L553 406.9 L549.5 406.1 L546 405.2 L542.5 404.2 L539 403.1 L535.5 401.8 L532 400.5 L528.6 399.2 L525.1 397.7 L521.6 396.1 L518.1 394.3 L514.6 392.2 L511.1 390 L507.6 387.1 L504.1 383.7 L500.6 379.7 L497.1 375.2 L493.6 369.9 L490.2 364 L486.7 357.2 L483.2 350 L479.7 342.9 L476.2 335.7 L472.7 328.5 L469.2 321.5 L465.7 314.8 L462.2 308.6 L458.7 302.7 L455.2 297 L451.7 291.6 L448.3 286.5 L444.8 281.8 L441.3 277.2 L437.8 273 L434.3 269.1 L430.8 265.6 L427.3 262.5 L423.8 259.6 L420.3 256.9 L416.8 254.6 L413.3 252.7 L409.9 251 L406.4 249.5 L402.9 248.1 L399.4 246.8 L395.9 245.9 L392.4 245.2Z" fill="rgba(120,120,120,0.2)"/>
<path d="M392.3 236 L395.4 236.1 L398.4 236.2 L401.4 236.4 L404.4 236.5 L407.4 236.7 L410.4 236.9 L413.4 237.1 L416.4 237.3 L419.5 237.6 L422.5 237.9 L425.5 238.3 L428.5 238.7 L431.5 239.2 L434.5 239.8 L437.5 240.4 L440.6 241.1 L443.6 241.9 L446.6 242.8 L449.6 243.8 L452.6 245 L455.6 246.3 L458.6 247.8 L461.7 249.5 L464.7 251.3 L467.7 253.4 L470.7 255.7 L473.7 258.3 L476.7 261.1 L479.7 264.3 L482.7 267.7 L485.8 271.4 L488.8 275.4 L491.8 279.8 L494.8 284.4 L497.8 289.3 L500.8 294.5 L503.8 300 L506.9 305.6 L509.9 311.3 L512.9 317.2 L515.9 323.1 L518.9 329.1 L521.9 334.9 L524.9 340.7 L528 346.3 L531 351.7 L534 356.9 L537 361.8 L540 366.4 L543 370.7 L546 374.7 L549 378.4 L552.1 381.8 L555.1 384.9 L558.1 387.7 L561.1 390.3 L564.1 392.6 L567.1 394.6 L570.1 396.5 L573.2 398.1 L576.2 399.6 L579.2 400.9 L582.2 402 L585.2 403.1 L588.2 404 L591.2 404.8 L594.3 405.5 L597.3 406.1 L600.3 406.6 L603.3 407.1 L606.3 407.5 L609.3 407.9 L612.3 408.2 L615.3 408.5 L618.4 408.7 L621.4 408.9 L624.4 409.1 L627.4 409.3 L630.4 409.4 L633.4 409.6 L636.4 409.7 L639.5 409.8 L642.5 409.9 L645.5 409.9 L648.5 410 L651.5 410.1 L654.5 410.1 L657.5 410.2 L660.6 410.2" fill="none" stroke="#444" stroke-width="0.33"/>
<circle cx="393.6" cy="235.3" r="2" fill="#26848d"/>
<circle cx="396.2" cy="235.3" r="2" fill="#26848d"/>
<circle cx="400.1" cy="235.3" r="2" fill="#287d8e"/>
<circle cx="392.3" cy="235.3" r="2" fill="#3cba75"/>
<circle cx="403.9" cy="235.3" r="2" fill="#414487"/>
<circle cx="409.1" cy="235.3" r="2" fill="#26848d"/>
<circle cx="410.4" cy="235.3" r="2" fill="#2c738e"/>
<circle cx="413" cy="235.3" r="2" fill="#2a788e"/>
<circle cx="415.5" cy="235.3" r="2" fill="#35608d"/>
<circle cx="416.8" cy="235.3" r="2" fill="#3b528a"/>
<circle cx="420.7" cy="235.3" r="2" fill="#229c88"/>
<circle cx="420.7" cy="235.3" r="2" fill="#229c88"/>
<circle cx="424.6" cy="235.3" r="2" fill="#29ad80"/>
<circle cx="425.9" cy="235.3" r="2" fill="#22a884"/>
<circle cx="429.7" cy="235.3" r="2" fill="#375a8c"/>
<circle cx="432.3" cy="235.3" r="2" fill="#35608d"/>
<circle cx="433.6" cy="235.3" r="2" fill="#7ad151"/>
<circle cx="441.3" cy="235.3" r="2" fill="#26848d"/>
<circle cx="442.6" cy="235.3" r="2" fill="#375a8c"/>
<circle cx="442.6" cy="235.3" r="2" fill="#375a8c"/>
<circle cx="443.9" cy="235.3" r="2" fill="#35608d"/>
<circle cx="447.8" cy="235.3" r="2" fill="#287d8e"/>
<circle cx="452.9" cy="235.3" r="2" fill="#26848d"/>
<circle cx="450.4" cy="235.3" r="2" fill="#6fcd57"/>
<circle cx="467.1" cy="235.3" r="2" fill="#21918c"/>
<circle cx="467.1" cy="235.3" r="2" fill="#fde725"/>
<circle cx="471" cy="235.3" r="2" fill="#36b679"/>
<circle cx="473.6" cy="235.3" r="2" fill="#6fcd57"/>
<circle cx="477.4" cy="235.3" r="2" fill="#287d8e"/>
<circle cx="485.2" cy="235.3" r="2" fill="#22a386"/>
<circle cx="501.9" cy="235.3" r="2" fill="#22a386"/>
<circle cx="505.8" cy="235.3" r="2" fill="#6fcd57"/>
<circle cx="511" cy="235.3" r="2" fill="#4ec36b"/>
<circle cx="531.6" cy="235.3" r="2" fill="#4ec36b"/>
<circle cx="534.2" cy="235.3" r="2" fill="#36b679"/>
<circle cx="576.7" cy="235.3" r="2" fill="#5ec861"/>
<circle cx="433.6" cy="410.45" r="2" fill="#440154"/>
<circle cx="458.1" cy="410.45" r="2" fill="#7ad151"/>
<circle cx="463.3" cy="410.45" r="2" fill="#414487"/>
<circle cx="491.6" cy="410.45" r="2" fill="#21918c"/>
<circle cx="500.7" cy="410.45" r="2" fill="#7ad151"/>
<circle cx="531.6" cy="410.45" r="2" fill="#21918c"/>
<circle cx="544.5" cy="410.45" r="2" fill="#2a788e"/>
<circle cx="581.9" cy="410.45" r="2" fill="#7ad151"/>
<circle cx="583.2" cy="410.45" r="2" fill="#22a884"/>
<circle cx="630.9" cy="410.45" r="2" fill="#3cba75"/>
<circle cx="645.1" cy="410.45" r="2" fill="#b5de2b"/>
<circle cx="668.3" cy="410.45" r="2" fill="#b5de2b"/>
<line x1="379.2" y1="226.5" x2="681.6" y2="226.5" stroke="#c2c2c2" stroke-width="1"/>
<line x1="378.7" y1="419.3" x2="682.1" y2="419.3" stroke="#a8a8a8" stroke-width="1"/>
<line x1="379.2" y1="226" x2="379.2" y2="419.3" stroke="#d2d2d2" stroke-width="1.3"/>
<line x1="681.6" y1="226" x2="681.6" y2="419.3" stroke="#a6a6a6" stroke-width="1"/>
<line x1="384.6" y1="419.7" x2="384.6" y2="421.2" stroke="#8c8c8c" stroke-width="0.8"/>
<text transform="translate(384.6,429.3) scale(1.0,1.08)" text-anchor="middle" class="tk">0</text>
<line x1="449.1" y1="419.7" x2="449.1" y2="421.2" stroke="#8c8c8c" stroke-width="0.8"/>
<text transform="translate(449.08,429.3) scale(1.0,1.08)" text-anchor="middle" class="tk">50</text>
<line x1="513.6" y1="419.7" x2="513.6" y2="421.2" stroke="#8c8c8c" stroke-width="0.8"/>
<text transform="translate(513.55,429.3) scale(1.0,1.08)" text-anchor="middle" class="tk">100</text>
<line x1="578" y1="419.7" x2="578" y2="421.2" stroke="#8c8c8c" stroke-width="0.8"/>
<text transform="translate(578.03,429.3) scale(1.0,1.08)" text-anchor="middle" class="tk">150</text>
<line x1="642.5" y1="419.7" x2="642.5" y2="421.2" stroke="#8c8c8c" stroke-width="0.8"/>
<text transform="translate(642.5,429.3) scale(1.0,1.08)" text-anchor="middle" class="tk">200</text>
<line x1="377" y1="410.4" x2="378.8" y2="410.4" stroke="#8c8c8c" stroke-width="0.8"/>
<text transform="translate(375.9,414.05) scale(1.0,1.08)" text-anchor="end" class="tk">0.00</text>
<line x1="377" y1="366.7" x2="378.8" y2="366.7" stroke="#8c8c8c" stroke-width="0.8"/>
<text transform="translate(375.9,370.28) scale(1.0,1.08)" text-anchor="end" class="tk">0.25</text>
<line x1="377" y1="322.9" x2="378.8" y2="322.9" stroke="#8c8c8c" stroke-width="0.8"/>
<text transform="translate(375.9,326.5) scale(1.0,1.08)" text-anchor="end" class="tk">0.50</text>
<line x1="377" y1="279.1" x2="378.8" y2="279.1" stroke="#8c8c8c" stroke-width="0.8"/>
<text transform="translate(375.9,282.73) scale(1.0,1.08)" text-anchor="end" class="tk">0.75</text>
<line x1="377" y1="235.3" x2="378.8" y2="235.3" stroke="#8c8c8c" stroke-width="0.8"/>
<text transform="translate(375.9,238.95) scale(1.0,1.08)" text-anchor="end" class="tk">1.00</text>
<text transform="translate(530.7,441.2) scale(1.0,1.02)" text-anchor="middle" class="ax">Tick loat at 5 days old</text>
<text transform="translate(354.5,323.2) rotate(-90) scale(0.987,1.02)" text-anchor="middle" class="ay">Survival probability to 14 days old</text>
<text x="347.5" y="232.4" class="lb">(d)</text>
</g>
<g id="legend-shape">
<text x="60.3" y="458" class="lt">Sub-colony - age</text>
<rect x="144.9" y="452.9" width="3.8" height="3.8" fill="none" stroke="#000" stroke-width="0.5" stroke-opacity="0.5"/>
<text transform="translate(155.5,457.6) scale(1.0,1.08)" class="lg">B - 5 days</text>
<rect x="199.1" y="452.9" width="3.8" height="3.8" fill="#000"/>
<text transform="translate(209.4,457.6) scale(1.0,1.08)" class="lg">B - 14 days</text>
<path d="M260 452.2L262.6 456.6L257.4 456.6Z" fill="none" stroke="#000" stroke-width="0.5" stroke-opacity="0.5"/>
<text transform="translate(268.2,457.6) scale(1.0,1.08)" class="lg">C - 5 days</text>
<path d="M314.1 452.2L316.7 456.6L311.5 456.6Z" fill="#000"/>
<text transform="translate(323.3,457.6) scale(1.0,1.08)" class="lg">C - 14 days</text>
</g>
<g id="legend-colour">
<defs><linearGradient id="vg" x1="0" y1="0" x2="1" y2="0">
<stop offset="0%" stop-color="#440154"/>
<stop offset="10%" stop-color="#482878"/>
<stop offset="20%" stop-color="#414487"/>
<stop offset="30%" stop-color="#35608d"/>
<stop offset="40%" stop-color="#2a788e"/>
<stop offset="50%" stop-color="#21918c"/>
<stop offset="60%" stop-color="#22a884"/>
<stop offset="70%" stop-color="#43bf71"/>
<stop offset="80%" stop-color="#7ad151"/>
<stop offset="90%" stop-color="#bbdf27"/>
<stop offset="100%" stop-color="#fde725"/>
</linearGradient></defs>
<text x="378.8" y="458" class="lt">Hatching date</text>
<rect x="442.6" y="449.9" width="182.2" height="8.2" fill="url(#vg)"/>
<text transform="translate(443,466.9) scale(1.0,1.08)" text-anchor="middle" class="lc">Dec-09</text>
<line x1="479.3" y1="449.9" x2="479.3" y2="451.5" stroke="#fff" stroke-width="0.5" stroke-opacity="0.45"/>
<line x1="479.3" y1="456.5" x2="479.3" y2="458.1" stroke="#fff" stroke-width="0.5" stroke-opacity="0.45"/>
<text transform="translate(479.32,466.9) scale(1.0,1.08)" text-anchor="middle" class="lc">Dec-11</text>
<line x1="515.6" y1="449.9" x2="515.6" y2="451.5" stroke="#fff" stroke-width="0.5" stroke-opacity="0.45"/>
<line x1="515.6" y1="456.5" x2="515.6" y2="458.1" stroke="#fff" stroke-width="0.5" stroke-opacity="0.45"/>
<text transform="translate(515.64,466.9) scale(1.0,1.08)" text-anchor="middle" class="lc">Dec-13</text>
<line x1="552" y1="449.9" x2="552" y2="451.5" stroke="#fff" stroke-width="0.5" stroke-opacity="0.45"/>
<line x1="552" y1="456.5" x2="552" y2="458.1" stroke="#fff" stroke-width="0.5" stroke-opacity="0.45"/>
<text transform="translate(551.96,466.9) scale(1.0,1.08)" text-anchor="middle" class="lc">Dec-15</text>
<line x1="588.3" y1="449.9" x2="588.3" y2="451.5" stroke="#fff" stroke-width="0.5" stroke-opacity="0.45"/>
<line x1="588.3" y1="456.5" x2="588.3" y2="458.1" stroke="#fff" stroke-width="0.5" stroke-opacity="0.45"/>
<text transform="translate(588.28,466.9) scale(1.0,1.08)" text-anchor="middle" class="lc">Dec-17</text>
<text transform="translate(624.6,466.9) scale(1.0,1.08)" text-anchor="middle" class="lc">Dec-19</text>
</g>
</svg>
</body></html>
